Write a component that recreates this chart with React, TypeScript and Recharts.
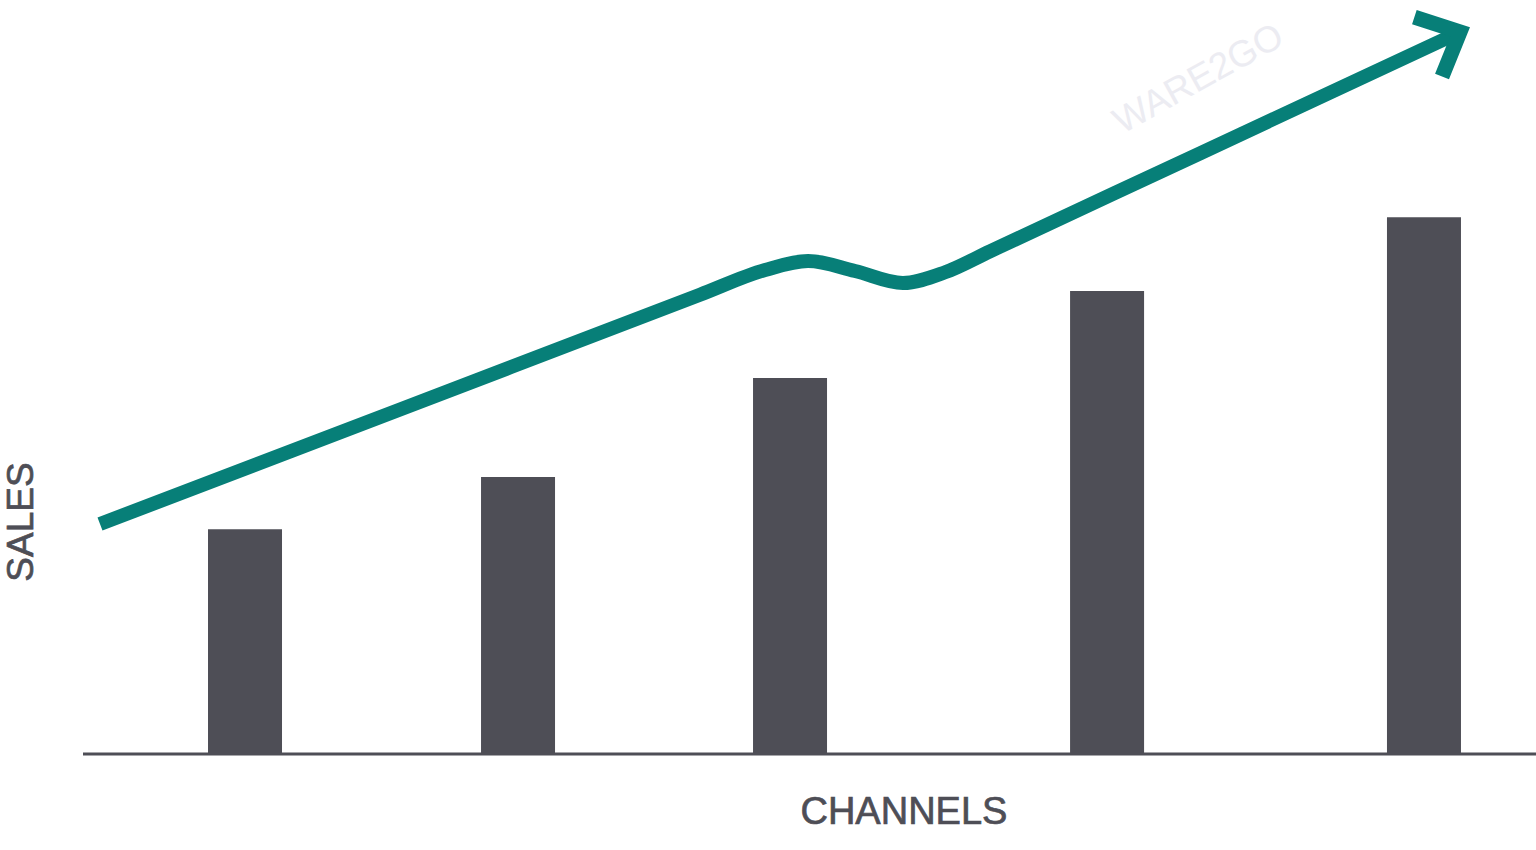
import React from "react";
import {
  ComposedChart,
  Bar,
  Line,
  XAxis,
  YAxis,
} from "recharts";

// bar positions along the channel axis (0-100) and sales heights (0-100)
const channelPos = [11.15, 29.94, 48.66, 70.48, 92.29];
const channelSales = [29.8, 36.74, 49.87, 61.4, 71.18];

// trend arrow path
const trendX = [1.17, 21.82, 42.46, 46.94, 49.9, 53.13, 56.43, 59.33, 62.42, 76.88, 94.77];
const trendY = [30.5, 45.7, 60.9, 64.19, 65.38, 64.06, 62.47, 63.89, 66.67, 79.67, 95.76];

const GREY = "#4e4e56";
const TEAL = "#077f78";
const FONT = "'Liberation Sans', Arial, Helvetica, sans-serif";

const barData = channelPos.map((x, i) => ({ x, sales: channelSales[i] }));
const trendData = trendX.map((x, i) => ({ x, trend: trendY[i] }));

export default function App() {
  return (
    <div style={{ position: "absolute", left: 0, top: 0, width: 1536, height: 850, background: "#fff" }}>
      <svg width={0} height={0} style={{ position: "absolute" }}>
        <defs>
          <marker
            id="arrowHead"
            viewBox="-60 -60 120 120"
            markerWidth={120}
            markerHeight={120}
            refX={0}
            refY={0}
            orient="auto"
            markerUnits="userSpaceOnUse"
            overflow="visible"
          >
            <path
              d="M -35.1 -32.7 L 0 0 L -35.1 32.7"
              fill="none"
              stroke={TEAL}
              strokeWidth={15}
              strokeLinejoin="miter"
              strokeMiterlimit={10}
            />
          </marker>
        </defs>
      </svg>
      <ComposedChart width={1536} height={850} data={barData} margin={{ top: 0, right: 0, bottom: 0, left: 0 }}>
        <XAxis xAxisId="bars" type="number" dataKey="x" domain={[0, 100]} hide />
        <XAxis
          type="number"
          dataKey="x"
          domain={[0, 100]}
          height={96}
          tick={false}
          tickLine={false}
          axisLine={{ stroke: GREY, strokeWidth: 3 }}
          label={{
            content: (props: any) => {
              const vb = props.viewBox;
              return (
                <text
                  x={vb.x + vb.width * 0.565}
                  y={vb.y + 70}
                  textAnchor="middle"
                  fill={GREY}
                  stroke={GREY}
                  strokeWidth={0.7}
                  fontSize={38}
                  fontFamily={FONT}
                >
                  CHANNELS
                </text>
              );
            },
          }}
        />
        <YAxis
          type="number"
          domain={[0, 100]}
          width={83}
          tick={false}
          tickLine={false}
          axisLine={false}
          label={{
            content: () => (
              <text
                x={33}
                y={522}
                transform="rotate(-90 33 522)"
                textAnchor="middle"
                fill={GREY}
                stroke={GREY}
                strokeWidth={0.7}
                fontSize={37}
                fontFamily={FONT}
              >
                SALES
              </text>
            ),
          }}
        />
        <text
          x={1204}
          y={89}
          transform="rotate(-29 1204 89)"
          textAnchor="middle"
          fill="#ececf2"
          fontSize={37}
          fontFamily={FONT}
        >
          WARE2GO
        </text>
        <Bar xAxisId="bars" dataKey="sales" fill={GREY} barSize={74} isAnimationActive={false} />
        <Line
          data={trendData}
          dataKey="trend"
          type="monotone"
          stroke={TEAL}
          strokeWidth={14}
          dot={false}
          activeDot={false}
          markerEnd="url(#arrowHead)"
          isAnimationActive={false}
        />
      </ComposedChart>
    </div>
  );
}
